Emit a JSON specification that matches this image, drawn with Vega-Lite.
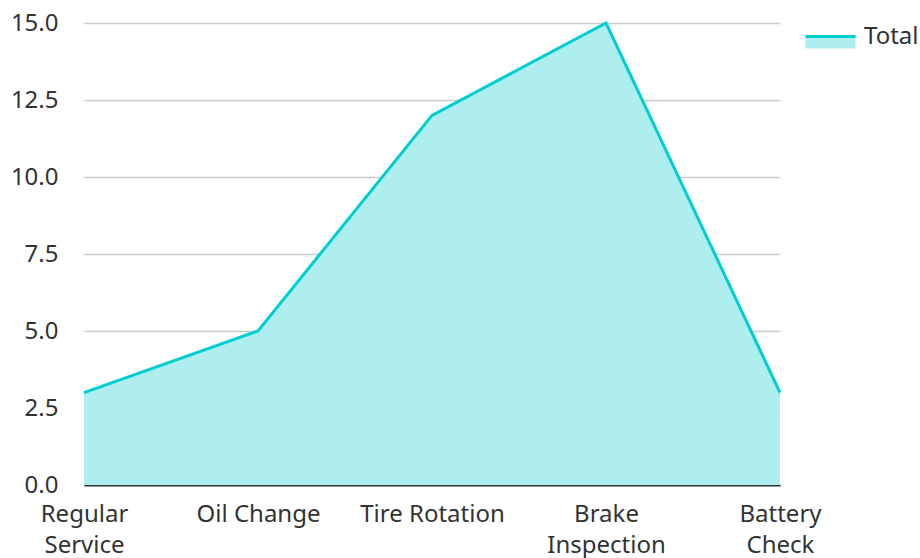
{
  "$schema": "https://vega.github.io/schema/vega-lite/v6.json",
  "width": 696,
  "height": 462,
  "autosize": {"type": "none"},
  "padding": {"left": 84, "top": 23, "right": 140, "bottom": 73},
  "background": "white",
  "config": {
    "font": "Noto Sans",
    "view": {"stroke": null}
  },
  "data": {
    "values": [
      {"service": "Regular Service", "count": 3},
      {"service": "Oil Change", "count": 5},
      {"service": "Tire Rotation", "count": 12},
      {"service": "Brake Inspection", "count": 15},
      {"service": "Battery Check", "count": 3}
    ]
  },
  "encoding": {
    "x": {
      "field": "service",
      "type": "ordinal",
      "sort": null,
      "scale": {"type": "point", "padding": 0},
      "axis": {
        "title": null,
        "labelAngle": 0,
        "labelFontSize": 24,
        "labelColor": "#333333",
        "labelLineHeight": 31,
        "labelPadding": 17,
        "labelBaseline": "top",
        "ticks": false,
        "grid": false,
        "domainColor": "#333333",
        "domainWidth": 2,
        "labelExpr": "indexof(['Regular Service','Brake Inspection','Battery Check'], datum.label) >= 0 ? split(datum.label, ' ') : datum.label"
      }
    },
    "y": {
      "field": "count",
      "type": "quantitative",
      "scale": {"domain": [0, 15], "nice": false, "zero": true},
      "axis": {
        "title": null,
        "values": [0, 2.5, 5, 7.5, 10, 12.5, 15],
        "format": ".1f",
        "labelFontSize": 24,
        "labelColor": "#333333",
        "labelPadding": 26,
        "ticks": false,
        "domain": false,
        "gridColor": "#cccccc",
        "gridWidth": 1.5
      }
    }
  },
  "layer": [
    {
      "mark": {"type": "area", "opacity": 1},
      "encoding": {
        "fill": {
          "datum": "Total",
          "type": "nominal",
          "scale": {"range": ["#AFEEEE"]},
          "legend": {
            "title": null,
            "orient": "none",
            "legendX": 720,
            "legendY": -13,
            "labelFontSize": 24,
            "labelColor": "#333333",
            "labelOffset": 7,
            "symbolSize": 2500,
            "symbolType": "M-1,0 L1,0 L1,0.48 L-1,0.48 Z",
            "symbolStrokeColor": "#00CED1",
            "symbolStrokeWidth": 3,
            "symbolDash": [50, 1000],
            "symbolOpacity": 1,
            "encode": {
              "symbols": {
                "update": {
                  "stroke": {"value": "#00CED1"},
                  "strokeWidth": {"value": 3},
                  "strokeDash": {"value": [50, 1000]},
                  "fill": {"value": "#AFEEEE"},
                  "opacity": {"value": 1},
                  "fillOpacity": {"value": 1},
                  "strokeOpacity": {"value": 1}
                }
              }
            }
          }
        }
      }
    },
    {
      "mark": {"type": "line", "color": "#00CED1", "strokeWidth": 3}
    }
  ]
}
